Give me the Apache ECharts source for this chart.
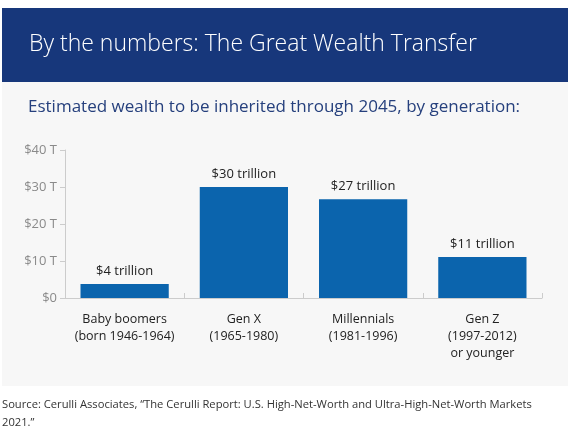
<!DOCTYPE html>
<html>
<head>
<meta charset="utf-8">
<script src="https://cdn.jsdelivr.net/npm/echarts@6/dist/echarts.min.js"></script>
<style>
  html, body { margin: 0; padding: 0; background: #fff; }
  #main { width: 570px; height: 436px; }
</style>
</head>
<body>
<div id="main"></div>
<script>
// data
var categories = ['Baby boomers\n(born 1946-1964)', 'Gen X\n(1965-1980)', 'Millennials\n(1981-1996)', 'Gen Z\n(1997-2012)\nor younger'];
var wealth = [3.8, 30, 26.7, 11.1];
var valueLabels = ['$4 trillion', '$30 trillion', '$27 trillion', '$11 trillion'];
var yTicks = { min: 0, max: 40, interval: 10 };

var font = '"Open Sans", "Noto Sans", sans-serif';

var myChart = echarts.init(document.getElementById('main'));
var option = {
    backgroundColor: '#ffffff',
    animation: false,
    graphic: [
        { type: 'rect', shape: { x: 2, y: 8, width: 566, height: 74 }, style: { fill: '#17377b' }, z: -1 },
        { type: 'rect', shape: { x: 2, y: 82, width: 566, height: 304 }, style: { fill: '#f7f7f7' }, z: -1 }
    ],
    title: [
        {
            text: 'By the numbers: The Great Wealth Transfer',
            left: 29,
            top: 33,
            padding: 0,
            textStyle: { color: '#ffffff', fontFamily: font, fontWeight: 300, fontSize: 23 }
        },
        {
            text: 'Estimated wealth to be inherited through 2045, by generation:',
            left: 28,
            top: 99,
            padding: 0,
            textStyle: { color: '#26407d', fontFamily: font, fontWeight: 'normal', fontSize: 17 }
        },
        {
            text: 'Source: Cerulli Associates, \u201cThe Cerulli Report: U.S. High-Net-Worth and Ultra-High-Net-Worth Markets\n2021.\u201d',
            left: 2,
            top: 396,
            padding: 0,
            textStyle: { color: '#333333', fontFamily: font, fontWeight: 'normal', fontSize: 11.2, lineHeight: 18 }
        }
    ],
    grid: {
        left: 65,
        right: 28,
        top: 150,
        bottom: 138
    },
    xAxis: {
        type: 'category',
        data: categories,
        axisLine: { lineStyle: { color: '#cccccc', width: 1 } },
        axisTick: { show: true, inside: true, length: 5, lineStyle: { color: '#cccccc' } },
        axisLabel: {
            interval: 0,
            color: '#222222',
            fontFamily: font,
            fontSize: 12.5,
            lineHeight: 17,
            margin: 13
        }
    },
    yAxis: {
        type: 'value',
        min: yTicks.min,
        max: yTicks.max,
        interval: yTicks.interval,
        axisLine: { show: true, lineStyle: { color: '#cccccc', width: 1 } },
        axisTick: { show: true, length: 5, lineStyle: { color: '#cccccc' } },
        splitLine: { show: false },
        axisLabel: {
            color: '#8a8a8a',
            fontFamily: font,
            fontSize: 13,
            margin: 8,
            formatter: function (v) { return v === 0 ? '$0' : '$' + v + ' T'; }
        }
    },
    series: [{
        type: 'bar',
        data: wealth,
        barWidth: '74%',
        itemStyle: { color: '#0b64ad' },
        label: {
            show: true,
            position: 'top',
            distance: 6,
            color: '#222222',
            fontFamily: font,
            fontSize: 13,
            formatter: function (p) { return valueLabels[p.dataIndex]; }
        }
    }]
};
myChart.setOption(option);
</script>
</body>
</html>
